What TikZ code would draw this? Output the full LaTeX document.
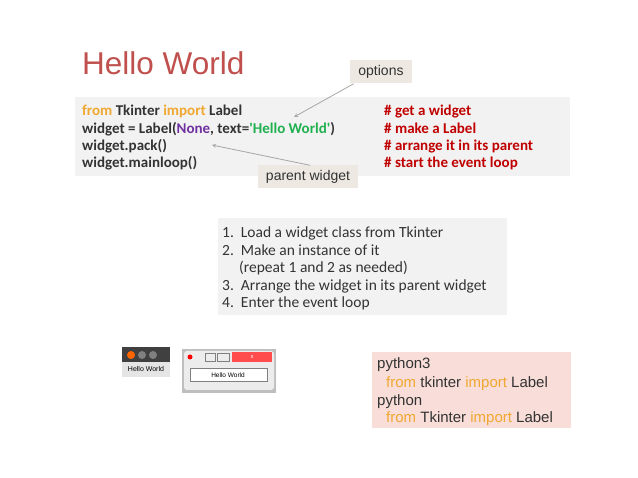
\documentclass[tikz,border=0pt]{standalone}
\usepackage{fontspec}
\setmainfont{Liberation Sans}
\newfontfamily\calfont{Carlito}
\definecolor{orng}{HTML}{F0A830}
\definecolor{purp}{HTML}{7030A0}
\definecolor{grn}{HTML}{20B050}
\definecolor{cred}{HTML}{C00000}
\definecolor{ttl}{HTML}{C0504D}
\definecolor{txt}{HTML}{333333}
\definecolor{pinkbg}{HTML}{F8DDD8}
\definecolor{calbg}{HTML}{EDE8E2}
\begin{document}
\begin{tikzpicture}[x=1pt,y=-1pt,
  code/.style={anchor=base west,font=\calfont\bfseries\fontsize{15}{17}\selectfont,text=txt,inner sep=0},
  cmt/.style={code,text=cred},
  stp/.style={anchor=base west,font=\calfont\fontsize{15.5}{17}\selectfont,text=txt,inner sep=0},
  py/.style={anchor=base west,font=\fontsize{15}{17}\selectfont,text=txt,inner sep=0},
  callout/.style={fill=#1,font=\fontsize{14}{16}\selectfont,text=txt,inner sep=0,minimum height=23},
  arr/.style={draw=gray!70,line width=0.8pt,-stealth}]
\useasboundingbox (0,0) rectangle (638,478);
\fill[white] (0,0) rectangle (638,478);
\node[anchor=base west,inner sep=0,text=ttl,font=\fontsize{31.5}{34}\selectfont] (title) at (82,75) {Hello World};
\fill[gray!10] (75,97) rectangle (570,176);
\node[code] (c1) at (82,116) {\textcolor{orng}{from} Tkinter \textcolor{orng}{import} Label};
\node[code] (c2) at (82,134) {widget = Label(\textcolor{purp}{None}, text=\textcolor{grn}{'Hello World'})};
\node[code] (c3) at (82,151) {widget.pack()};
\node[code] (c4) at (82,168) {widget.mainloop()};
\node[cmt] (m1) at (384,116) {\# get a widget};
\node[cmt] (m2) at (384,134) {\# make a Label};
\node[cmt] (m3) at (384,151) {\# arrange it in its parent};
\node[cmt] (m4) at (384,168) {\# start the event loop};
\node[callout=calbg,minimum width=62] (opt) at (381,72) {options};
\node[callout=calbg,minimum width=100] (par) at (308,177) {parent widget};
\coordinate (ot) at (294,117);
\coordinate (pt) at (212,145);
\draw[arr] (opt.south west) ++(4,0) -- (ot);
\draw[arr] (par.north) ++(2,0) -- (pt);
\fill[gray!10] (218,218) rectangle (507,315);
\node[stp] (s1) at (222,238) {1.\hspace{7pt}Load a widget class from Tkinter};
\node[stp] (s2) at (222,256) {2.\hspace{7pt}Make an instance of it};
\node[stp] (s2b) at (239,273) {(repeat 1 and 2 as needed)};
\node[stp] (s3) at (222,291) {3.\hspace{7pt}Arrange the widget in its parent widget};
\node[stp] (s4) at (222,308) {4.\hspace{7pt}Enter the event loop};
% screenshot 1
\fill[gray!20] (122,347) rectangle (170,377);
\fill[black!75] (122,347) rectangle (170,362);
\fill[orange!80!red] (131,355) circle (4);
\fill[gray] (142,355) circle (4);
\fill[gray] (153,355) circle (4);
\node[font=\fontsize{7}{8}\selectfont,inner sep=0] (w1) at (146,369) {Hello World};
% screenshot 2
\fill[gray!50] (182,349) rectangle (276,393);
\fill[gray!15,rounded corners=3] (184,351) rectangle (274,390);
\fill[red!70] (232,352) rectangle (272,362);
\node[font=\fontsize{6}{7}\selectfont,text=white,inner sep=0] at (252,357) {x};
\fill[red] (190,357) circle (2.5);
\draw[gray] (205,353) rectangle (215,361) (217,353) rectangle (229,361);
\draw[gray,fill=white] (190,368) rectangle (267,381);
\node[font=\fontsize{6.5}{8}\selectfont,inner sep=0] (w2) at (228,375) {Hello World};
\fill[pinkbg] (372,352) rectangle (571,428);
\node[py] (p1) at (377,369) {python3};
\node[py] (p2) at (386,388) {\textcolor{orng}{from} tkinter \textcolor{orng}{import} Label};
\node[py] (p3) at (377,406) {python};
\node[py] (p4) at (386,423) {\textcolor{orng}{from} Tkinter \textcolor{orng}{import} Label};
\end{tikzpicture}
\end{document}
